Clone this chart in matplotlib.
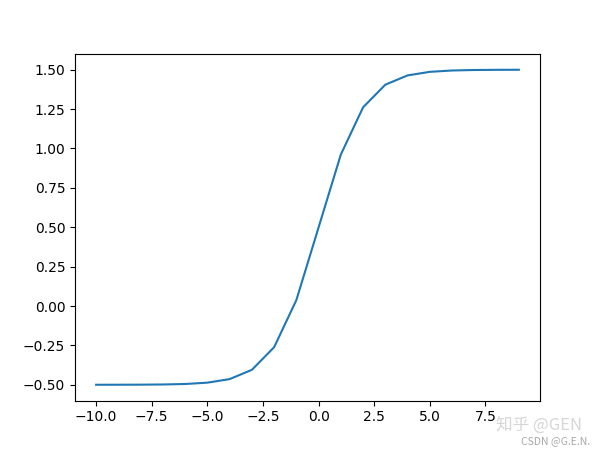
import matplotlib
matplotlib.use("Agg")
import matplotlib.pyplot as plt

# x from -10 to 9
x = list(range(-10, 10))
y = [-0.4999, -0.4998, -0.4993, -0.4982, -0.4951, -0.4866, -0.4640, -0.4052,
     -0.2616, 0.0379, 0.5, 0.9621, 1.2616, 1.4052, 1.4640, 1.4866, 1.4951,
     1.4982, 1.4993, 1.4998]

fig = plt.figure(figsize=(6, 4.5), dpi=100)
plt.plot(x, y)

# watermarks
fig.text(0.97, 0.074, "知乎 @GEN", ha="right", va="top", fontsize=12,
         color="#d6d6d6", family=["Noto Sans CJK SC", "DejaVu Sans"])
fig.text(0.983, 0.008, "CSDN @G.E.N.", ha="right", va="bottom", fontsize=7.5,
         color="#a8a8a8", family=["Noto Sans CJK SC", "DejaVu Sans"])

plt.savefig("out.png", dpi=100)
plt.close()
